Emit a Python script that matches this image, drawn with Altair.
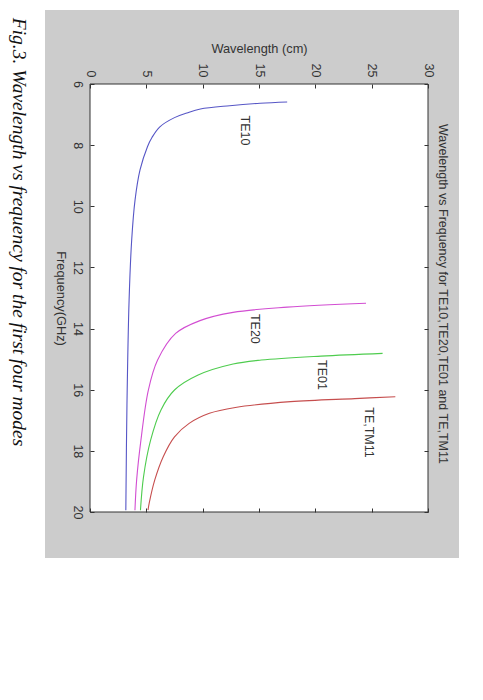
import altair as alt
import pandas as pd

# ---- data (wavelength in cm vs frequency in GHz) ----
modes = ["TE10", "TE20", "TE01", "TE,TM11"]
colors = ["#5656c6", "#d24ed2", "#4ecc4e", "#c64e4e"]

te10_f = [6.59, 6.63, 6.71, 6.82, 6.95, 7.10, 7.40, 7.75, 8.05, 8.81, 9.79, 11.10, 13.07, 16.50, 19.94]
te10_w = [17.5, 15.1, 12.4, 9.8, 8.6, 7.5, 6.2, 5.5, 5.1, 4.44, 4.0, 3.70, 3.47, 3.28, 3.18]

te20_f = [13.17, 13.30, 13.47, 13.74, 14.16, 15.03, 16.01, 17.65, 18.95, 19.94]
te20_w = [24.5, 17.5, 12.7, 9.76, 7.6, 6.0, 5.18, 4.52, 4.14, 3.99]

te01_f = [14.81, 14.90, 15.03, 15.16, 15.52, 16.01, 16.66, 17.65, 18.85, 19.94]
te01_w = [25.97, 20.5, 15.2, 12.7, 9.6, 7.5, 6.3, 5.38, 4.75, 4.48]

tm11_f = [16.23, 16.29, 16.39, 16.58, 16.77, 17.10, 17.54, 18.19, 18.95, 19.72, 19.94]
tm11_w = [27.1, 23.5, 17.8, 12.9, 10.6, 8.8, 7.5, 6.50, 5.75, 5.25, 5.15]

label_w = [13.75, 14.64, 20.56, 24.79]
label_f = [7.52, 14.01, 15.52, 17.40]

wave_ticks = [0, 5, 10, 15, 20, 25, 30]
freq_ticks = [6, 8, 10, 12, 14, 16, 18, 20]

title_text = ["Wavelength vs Frequency for TE10,TE20,TE01  and TE,TM11"]
caption_text = ["Fig.3. Wavelength vs frequency for the first four modes"]

# ---- tables ----
rows = []
for m, fs, ws in zip(modes, [te10_f, te20_f, te01_f, tm11_f], [te10_w, te20_w, te01_w, tm11_w]):
    for i, (f, w) in enumerate(zip(fs, ws)):
        rows.append({"mode": m, "freq": f, "wave": w, "i": i})
df = pd.DataFrame(rows)
labels = pd.DataFrame({"mode": modes, "wave": label_w, "freq": label_f})
cap = pd.DataFrame({"text": caption_text})
ttl = pd.DataFrame({"text": title_text})
one = pd.DataFrame({"a": [0]})

W, H = 338, 428
SANS = "Liberation Sans"
INK = "#333333"

x_scale = alt.Scale(domain=[0, 30], nice=False, zero=False)
y_scale = alt.Scale(domain=[6, 20], reverse=True, nice=False, zero=False)

common = dict(domain=False, grid=False, tickSize=4, offset=-4, tickColor=INK, tickWidth=1,
              labelColor=INK, labelFont=SANS, labelFontSize=12.5, labelAngle=90,
              labelFlush=False, labelOverlap=False, zindex=1,
              titleFont=SANS, titleFontSize=12.8, titleFontWeight="normal", titleColor=INK)

x_top = alt.Axis(orient="top", values=wave_ticks, labelAlign="right", labelBaseline="middle",
                 labelPadding=7, title="Wavelength (cm)", titlePadding=8, **common)
y_left = alt.Axis(orient="left", values=freq_ticks, labelAlign="center", labelBaseline="top",
                  labelPadding=7, title="Frequency(GHz)", titleAngle=90, titleAlign="center",
                  titleBaseline="middle", titleX=-34, titleY=H / 2, **common)
x_bottom = alt.Axis(orient="bottom", values=wave_ticks, labels=False, title=None, **common)
y_right = alt.Axis(orient="right", values=freq_ticks, labels=False, title=None, **common)

bg = alt.Chart(one).mark_rect(color="#cccccc").encode(
    x=alt.value(-45), x2=alt.value(369), y=alt.value(-74), y2=alt.value(474))
plotbg = alt.Chart(one).mark_rect(fill="white", stroke=INK, strokeWidth=1).encode(
    x=alt.value(0), x2=alt.value(W), y=alt.value(0), y2=alt.value(H))

lines = alt.Chart(df).mark_line(strokeWidth=1.1, interpolate="catmull-rom").encode(
    x=alt.X("wave:Q", scale=x_scale, axis=x_top),
    y=alt.Y("freq:Q", scale=y_scale, axis=y_left),
    color=alt.Color("mode:N", scale=alt.Scale(domain=modes, range=colors), legend=None),
    order=alt.Order("i:Q"),
    detail="mode:N",
)

texts = alt.Chart(labels).mark_text(angle=90, align="center", baseline="middle",
                                    font=SANS, fontSize=12.5, color=INK).encode(
    x=alt.X("wave:Q", scale=x_scale, axis=x_bottom),
    y=alt.Y("freq:Q", scale=y_scale, axis=y_right),
    text="mode:N",
)

title = alt.Chart(ttl).mark_text(angle=90, align="center", baseline="middle",
                                 font=SANS, fontSize=12.5, color=INK).encode(
    x=alt.value(353), y=alt.value(210), text="text:N")

caption = alt.Chart(cap).mark_text(angle=90, align="center", baseline="middle",
                                   font="Liberation Serif", fontStyle="italic",
                                   fontSize=19.5, color="#111111").encode(
    x=alt.value(-71.5), y=alt.value(148), text="text:N")

chart = alt.layer(bg, plotbg, lines, texts, title, caption).resolve_axis(
    x="independent", y="independent"
).properties(
    width=W, height=H,
    autosize=alt.AutoSizeParams(type="none"),
    padding={"left": 82, "top": 76, "right": 47, "bottom": 170},
).configure(background="white").configure_view(stroke=None)

chart.save("out.html", embed_options={"renderer": "svg", "actions": False})
